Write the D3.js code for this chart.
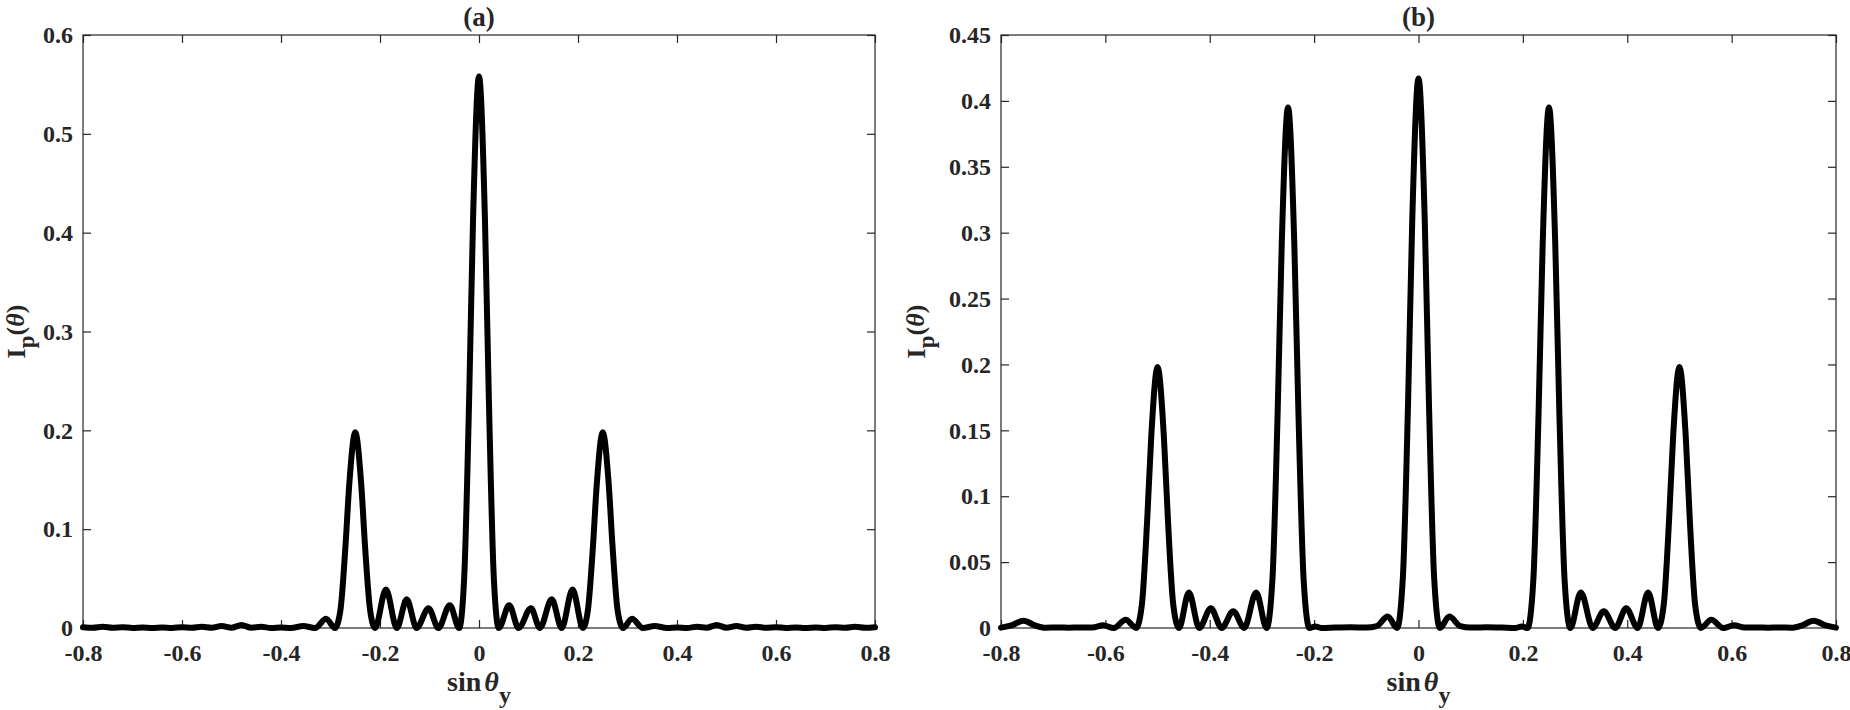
<!DOCTYPE html>
<html>
<head>
<meta charset="utf-8">
<script src="https://cdn.jsdelivr.net/npm/d3@7"></script>
<style>
  body { margin: 0; background: #fff; }
  svg { display: block; }
  text { font-family: "Liberation Serif", "Times New Roman", "DejaVu Serif", serif; font-weight: bold; fill: #262626; }
</style>
</head>
<body>
<script>
// tick values and labels
let xTicks = [-0.8, -0.6, -0.4, -0.2, 0, 0.2, 0.4, 0.6, 0.8]
let xTickLabels = ["-0.8", "-0.6", "-0.4", "-0.2", "0", "0.2", "0.4", "0.6", "0.8"]
let yTicksA = [0, 0.1, 0.2, 0.3, 0.4, 0.5, 0.6]
let yTickLabelsA = ["0", "0.1", "0.2", "0.3", "0.4", "0.5", "0.6"]
let yTicksB = [0, 0.05, 0.1, 0.15, 0.2, 0.25, 0.3, 0.35, 0.4, 0.45]
let yTickLabelsB = ["0", "0.05", "0.1", "0.15", "0.2", "0.25", "0.3", "0.35", "0.4", "0.45"]

// panel (a): sin(theta_y) and I_p (peaks and nulls)
let sinA = [-0.80, -0.78, -0.76, -0.74, -0.72, -0.70, -0.68, -0.66, -0.64, -0.62, -0.60, -0.58, -0.56, -0.54,
  -0.52, -0.50, -0.48, -0.46, -0.44, -0.42, -0.40, -0.38, -0.355, -0.331, -0.309, -0.291,
  -0.28, -0.27, -0.262, -0.25, -0.238, -0.23, -0.22, -0.21,
  -0.188, -0.166, -0.146, -0.126, -0.102, -0.082, -0.059, -0.040,
  -0.03, -0.02, -0.012, 0, 0.012, 0.02, 0.03, 0.040,
  0.061, 0.080, 0.105, 0.123, 0.147, 0.167, 0.189, 0.21,
  0.22, 0.23, 0.238, 0.25, 0.262, 0.27, 0.28, 0.291,
  0.309, 0.331, 0.355, 0.38, 0.40, 0.42, 0.44, 0.46, 0.48, 0.50, 0.52, 0.54, 0.56, 0.58, 0.60,
  0.62, 0.64, 0.66, 0.68, 0.70, 0.72, 0.74, 0.76, 0.78, 0.80]
let ipA = [0.0008, 0.0002, 0.0012, 0.0002, 0.0008, 0.0001, 0.0006, 0.0001, 0.0005, 0.0001, 0.0008, 0.0002, 0.0012, 0.0002,
  0.002, 0.0003, 0.003, 0.0003, 0.0012, 0.0001, 0.0005, 0.0001, 0.002, 0, 0.0094, 0,
  0.018, 0.081, 0.146, 0.198, 0.146, 0.081, 0.018, 0,
  0.039, 0, 0.029, 0, 0.020, 0, 0.023, 0,
  0.05, 0.23, 0.414, 0.558, 0.414, 0.23, 0.05, 0,
  0.023, 0, 0.020, 0, 0.029, 0, 0.039, 0,
  0.018, 0.081, 0.146, 0.198, 0.146, 0.081, 0.018, 0,
  0.0094, 0, 0.002, 0.0001, 0.0005, 0.0001, 0.0012, 0.0003, 0.003, 0.0003, 0.002, 0.0002, 0.0012, 0.0002, 0.0008,
  0.0001, 0.0005, 0.0001, 0.0006, 0.0001, 0.0008, 0.0002, 0.0012, 0.0002, 0.0008]

// panel (b)
let sinB = [-0.80, -0.78, -0.757, -0.735, -0.715, -0.69, -0.67, -0.65, -0.625, -0.604, -0.584, -0.561, -0.541,
  -0.53, -0.52, -0.512, -0.50, -0.488, -0.48, -0.47, -0.459,
  -0.440, -0.420, -0.398, -0.377, -0.355, -0.334, -0.311, -0.291,
  -0.28, -0.27, -0.262, -0.25, -0.238, -0.23, -0.22, -0.209,
  -0.198, -0.185, -0.16, -0.13, -0.10, -0.08, -0.059, -0.041,
  -0.03, -0.02, -0.012, 0, 0.012, 0.02, 0.03, 0.041,
  0.059, 0.08, 0.10, 0.13, 0.16, 0.185, 0.198, 0.209,
  0.22, 0.23, 0.238, 0.25, 0.262, 0.27, 0.28, 0.291,
  0.311, 0.334, 0.355, 0.377, 0.398, 0.420, 0.440, 0.459,
  0.47, 0.48, 0.488, 0.50, 0.512, 0.52, 0.53, 0.541,
  0.561, 0.584, 0.604, 0.625, 0.65, 0.67, 0.69, 0.715, 0.735, 0.757, 0.78, 0.80]
let ipB = [0.0003, 0.002, 0.0055, 0.002, 0.0002, 0.0004, 0.0002, 0.0004, 0.0003, 0.002, 0, 0.0062, 0,
  0.018, 0.081, 0.146, 0.198, 0.146, 0.081, 0.018, 0,
  0.027, 0, 0.015, 0, 0.0128, 0, 0.027, 0,
  0.036, 0.162, 0.292, 0.395, 0.292, 0.162, 0.036, 0,
  0.0012, 0, 0.0003, 0.0005, 0.0004, 0.0015, 0.0087, 0,
  0.038, 0.171, 0.309, 0.417, 0.309, 0.171, 0.038, 0,
  0.0087, 0.0015, 0.0004, 0.0005, 0.0003, 0, 0.0012, 0,
  0.036, 0.162, 0.292, 0.395, 0.292, 0.162, 0.036, 0,
  0.027, 0, 0.0128, 0, 0.015, 0, 0.027, 0,
  0.018, 0.081, 0.146, 0.198, 0.146, 0.081, 0.018, 0,
  0.0062, 0, 0.002, 0.0003, 0.0004, 0.0002, 0.0004, 0.0002, 0.002, 0.0055, 0.002, 0.0003]

let width = 1850,
  height = 710

let svg = d3.select("body")
  .append("svg")
  .attr("width", width)
  .attr("height", height)

function drawPanel(cfg) {
  let x = d3.scaleLinear().domain([-0.8, 0.8]).range([cfg.left, cfg.right])
  let y = d3.scaleLinear().domain([0, cfg.yMax]).range([cfg.bottom, cfg.top])
  let g = svg.append("g")

  //坐标框
  g.append("rect")
    .attr("x", cfg.left)
    .attr("y", cfg.top)
    .attr("width", cfg.right - cfg.left)
    .attr("height", cfg.bottom - cfg.top)
    .attr("fill", "none")
    .attr("stroke", "#262626")
    .attr("stroke-width", 1.2)

  let xfmt = (d) => xTickLabels[xTicks.indexOf(d)]
  let yfmt = (d) => cfg.yLabels[cfg.yTicks.indexOf(d)]

  let axes = [
    g.append("g").attr("transform", `translate(0,${cfg.bottom})`)
      .call(d3.axisBottom(x).tickValues(xTicks).tickFormat(xfmt).tickSizeInner(-8).tickSizeOuter(0).tickPadding(16)),
    g.append("g").attr("transform", `translate(0,${cfg.top})`)
      .call(d3.axisTop(x).tickValues(xTicks).tickFormat("").tickSizeInner(-8).tickSizeOuter(0)),
    g.append("g").attr("transform", `translate(${cfg.left},0)`)
      .call(d3.axisLeft(y).tickValues(cfg.yTicks).tickFormat(yfmt).tickSizeInner(-8).tickSizeOuter(0).tickPadding(10)),
    g.append("g").attr("transform", `translate(${cfg.right},0)`)
      .call(d3.axisRight(y).tickValues(cfg.yTicks).tickFormat("").tickSizeInner(-8).tickSizeOuter(0))
  ]
  axes.forEach((a) => {
    a.select(".domain").remove()
    a.selectAll(".tick line").attr("stroke", "#262626").attr("stroke-width", 1.2)
    a.selectAll(".tick text")
      .attr("font-family", "Liberation Serif, Times New Roman, DejaVu Serif, serif")
      .attr("font-weight", "bold")
      .attr("font-size", 24)
      .attr("fill", "#262626")
  })

  //曲线
  let pts = cfg.xs.map((d, i) => [d, cfg.ys[i]])
  let line = d3.line()
    .x((d) => x(d[0]))
    .y((d) => y(d[1]))
    .curve(d3.curveMonotoneX)
  g.append("path")
    .datum(pts)
    .attr("d", line)
    .attr("fill", "none")
    .attr("stroke", "#000")
    .attr("stroke-width", 6)
    .attr("stroke-linejoin", "round")
    .attr("stroke-linecap", "round")

  //标题
  let cx = (cfg.left + cfg.right) / 2
  g.append("text")
    .attr("x", cx)
    .attr("y", 26)
    .attr("text-anchor", "middle")
    .attr("font-size", 27)
    .text(cfg.title)

  //x轴标签
  let xl = g.append("text")
    .attr("x", cx)
    .attr("y", 691)
    .attr("text-anchor", "middle")
    .attr("font-size", 28)
  xl.append("tspan").text("sin")
  xl.append("tspan").attr("dx", 3).attr("font-style", "italic").text("θ")
  xl.append("tspan").attr("dy", "0.5em").attr("font-size", 24).text("y")

  //y轴标签
  let yl = g.append("text")
    .attr("transform", `translate(${cfg.yLabelX},${(cfg.top + cfg.bottom) / 2}) rotate(-90)`)
    .attr("text-anchor", "middle")
    .attr("font-size", 26)
  yl.append("tspan").text("I")
  yl.append("tspan").attr("dy", "0.4em").attr("font-size", 23).text("p")
  yl.append("tspan").attr("dy", "-0.4em").text("(")
  yl.append("tspan").attr("font-style", "italic").text("θ")
  yl.append("tspan").text(")")
}

drawPanel({
  left: 83, right: 875, top: 35, bottom: 628,
  yMax: 0.6, yTicks: yTicksA, yLabels: yTickLabelsA,
  xs: sinA, ys: ipA, title: "(a)", yLabelX: 25
})
drawPanel({
  left: 1001, right: 1836, top: 35, bottom: 628,
  yMax: 0.45, yTicks: yTicksB, yLabels: yTickLabelsB,
  xs: sinB, ys: ipB, title: "(b)", yLabelX: 925
})
</script>
</body>
</html>
